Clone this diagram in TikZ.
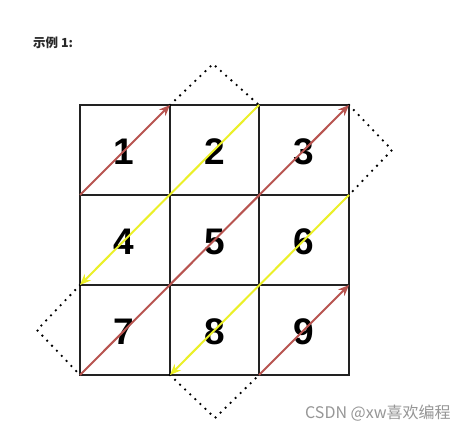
\documentclass[tikz,border=0pt]{standalone}
\usepackage{fontspec}
\setmainfont{Liberation Sans}
\newfontfamily\cjk{Noto Sans CJK SC}
\usetikzlibrary{arrows.meta}
\definecolor{brownarr}{RGB}{184,84,80}
\definecolor{yellowarr}{RGB}{235,240,40}
\definecolor{gridc}{RGB}{34,34,34}
\tikzset{
  gridline/.style={draw=gridc, line width=2.8pt},
  numlabel/.style={font=\fontsize{37}{37}\selectfont\bfseries, text=black, inner sep=0pt},
  brownline/.style={draw=brownarr, line width=2pt, -{Stealth[length=11pt,width=9pt]}},
  yellowline/.style={draw=yellowarr, line width=2pt, -{Stealth[length=11pt,width=9pt]}},
  dotline/.style={draw=black, line width=2.6pt, dash pattern=on 0pt off 7pt, line cap=round},
}
\begin{document}
\begin{tikzpicture}[x=1pt,y=-1pt]
\useasboundingbox (0,0) rectangle (474,433);
\fill[white] (0,0) rectangle (474,433);
% grid points
\foreach \i/\x in {0/80,1/170,2/259,3/349}{
  \foreach \j/\y in {0/105,1/195,2/285,3/375}{
    \coordinate (p\i\j) at (\x,\y);
  }
}
% corner points of dotted turns
\coordinate (dt) at (213,64);
\coordinate (dr) at (392,150);
\coordinate (dl) at (37,330);
\coordinate (db) at (215,418);
% title
\node[font=\cjk\bfseries\fontsize{12.5}{12.5}\selectfont, anchor=west, inner sep=0pt, text={rgb,255:red,40;green,40;blue,40}] (title) at (33,43) {示例 1:};
% numbers
\node[numlabel] (n1) at (124,152) {1};
\node[numlabel] (n2) at (214.5,152) {2};
\node[numlabel] (n3) at (304,152) {3};
\node[numlabel] (n4) at (124,242) {4};
\node[numlabel] (n5) at (214.5,242) {5};
\node[numlabel] (n6) at (304,242) {6};
\node[numlabel] (n7) at (124,332) {7};
\node[numlabel] (n8) at (214.5,332) {8};
\node[numlabel] (n9) at (304,332) {9};
% grid
\draw[gridline] (p00) rectangle (p33);
\draw[gridline] (p10) -- (p13);
\draw[gridline] (p20) -- (p23);
\draw[gridline] (p01) -- (p31);
\draw[gridline] (p02) -- (p32);
% dotted turns
\draw[dotline] (p10) -- (dt) -- (p20);
\draw[dotline] (p30) -- (dr) -- (p31);
\draw[dotline] (p02) -- (dl) -- (p03);
\draw[dotline] (p13) -- (db) -- (p23);
% arrows
\draw[brownline] (p01) -- (p10);
\draw[yellowline] (p20) -- (p02);
\draw[brownline] (p03) -- (p30);
\draw[yellowline] (p31) -- (p13);
\draw[brownline] (p23) -- (p32);
% watermark
\node[font=\cjk\fontsize{16}{16}\selectfont, anchor=west, text={rgb,255:red,150;green,150;blue,150}, inner sep=0pt] (wm) at (305,413) {CSDN @xw喜欢编程};
\end{tikzpicture}
\end{document}
